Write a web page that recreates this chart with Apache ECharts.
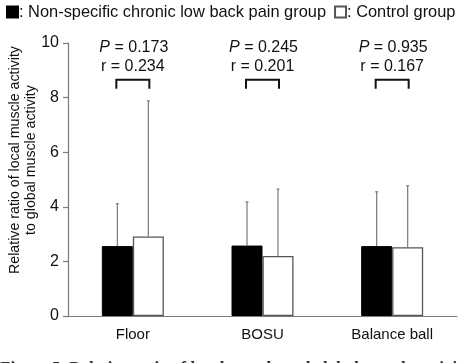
<!DOCTYPE html>
<html>
<head>
<meta charset="utf-8">
<script src="https://cdn.jsdelivr.net/npm/echarts@6/dist/echarts.min.js"></script>
<style>html,body{margin:0;padding:0;background:#fff;}#c{width:474px;height:363px;}</style>
</head>
<body>
<div id="c"></div>
<script>
var categories = ['Floor', 'BOSU', 'Balance ball'];
var seriesNames = ['Non-specific chronic low back pain group', 'Control group'];
var painMean = [2.56, 2.58, 2.56];
var painErr = [4.11, 4.18, 4.55];
var controlMean = [2.91, 2.20, 2.52];
var controlErr = [7.88, 4.65, 4.77];
var pValues = ['0.173', '0.245', '0.935'];
var rValues = ['0.234', '0.201', '0.167'];
var yTicks = [0, 2, 4, 6, 8, 10];
var yTitle = 'Relative ratio of local muscle activity\nto global muscle activity';
var pLabelY = 9.85, rLabelY = 9.15, bracketTop = 8.65, bracketBottom = 8.32;

var chart = echarts.init(document.getElementById('c'), null, {renderer: 'canvas'});
var FONT = 'Liberation Sans, Arial, sans-serif';
var GRAY = '#7a7a7a';

function errRender(values, side) {
  return function (params, api) {
    var i = api.value(0);
    var top = api.coord([i, values[i]]);
    var base = api.coord([i, side === 0 ? painMean[i] : controlMean[i]]);
    var barW = 31;
    var x = top[0] + (side === 0 ? -barW / 2 : barW / 2);
    return {
      type: 'group',
      children: [
        {type: 'line', shape: {x1: x, y1: base[1], x2: x, y2: top[1]}, style: {stroke: GRAY, lineWidth: 1.2}},
        {type: 'line', shape: {x1: x - 1.5, y1: top[1], x2: x + 1.5, y2: top[1]}, style: {stroke: GRAY, lineWidth: 1.2}}
      ]
    };
  };
}

function annRender(params, api) {
  var i = api.value(0);
  var pP = api.coord([i, pLabelY]);
  var pR = api.coord([i, rLabelY]);
  var bt = api.coord([i, bracketTop]);
  var bb = api.coord([i, bracketBottom]);
  var cx = pP[0];
  var x1 = cx - 16.5, x2 = cx + 16.5;
  return {
    type: 'group',
    children: [
      {type: 'text', x: cx + 1, y: pP[1], style: {text: '{i|P} = ' + pValues[i], rich: {i: {fontStyle: 'italic', fontSize: 16, fontFamily: FONT, fill: '#111'}}, fontSize: 16, fontFamily: FONT, fill: '#111', align: 'center', verticalAlign: 'middle'}},
      {type: 'text', x: cx, y: pR[1], style: {text: 'r = ' + rValues[i], fontSize: 16, fontFamily: FONT, fill: '#111', align: 'center', verticalAlign: 'middle'}},
      {type: 'polyline', shape: {points: [[x1, bb[1]], [x1, bt[1]], [x2, bt[1]], [x2, bb[1]]]}, style: {stroke: '#111', lineWidth: 2, fill: null}}
    ]
  };
}

var idx = categories.map(function (c, i) { return [i]; });

chart.setOption({
  animation: false,
  backgroundColor: '#fff',
  legend: {
    left: 6, top: 4, padding: 0,
    itemWidth: 11, itemHeight: 11, itemGap: 8,
    icon: 'rect',
    data: seriesNames,
    formatter: function (n) { return ': ' + n; },
    textStyle: {fontSize: 16.4, fontFamily: FONT, color: '#111', padding: [0, 0, 0, -4]}
  },
  grid: {left: 68, right: 17, top: 43, bottom: 47, outerBoundsMode: 'none', containLabel: false},
  xAxis: {
    type: 'category', data: categories,
    axisLine: {lineStyle: {color: GRAY, width: 1.2}},
    axisTick: {show: false},
    axisLabel: {fontSize: 15, fontFamily: FONT, color: '#111', margin: 11}
  },
  yAxis: {
    type: 'value', min: yTicks[0], max: yTicks[yTicks.length - 1], interval: 2,
    axisLine: {show: true, lineStyle: {color: GRAY, width: 1.2}},
    axisTick: {show: true, length: 5, lineStyle: {color: GRAY, width: 1.2}},
    axisLabel: {fontSize: 16, fontFamily: FONT, color: '#111', margin: 9},
    splitLine: {show: false}
  },
  series: [
    {name: seriesNames[0], type: 'bar', data: painMean, barWidth: 31, barGap: '0%',
     itemStyle: {color: '#000', borderColor: '#000', borderWidth: 1}},
    {name: seriesNames[1], type: 'bar', data: controlMean, barWidth: 31,
     itemStyle: {color: '#fff', borderColor: '#555', borderWidth: 1.3}},
    {type: 'custom', data: idx, renderItem: errRender(painErr, 0), z: 1, silent: true},
    {type: 'custom', data: idx, renderItem: errRender(controlErr, 1), z: 1, silent: true},
    {type: 'custom', data: idx, renderItem: annRender, z: 5, silent: true}
  ],
  graphic: [
    {type: 'text', x: 23, y: 160, rotation: Math.PI / 2,
     style: {text: yTitle, fontSize: 14.2, lineHeight: 16, fontFamily: FONT, fill: '#111', align: 'center', verticalAlign: 'middle'}},
    {type: 'text', left: 0, top: 360, style: {text: 'Figure 5. Relative ratio of local muscle and global muscle activity dividing', fontSize: 17, fontWeight: 'bold', fontFamily: 'Liberation Serif, Times New Roman, serif', fill: '#333'}}
  ]
});
</script>
</body>
</html>
